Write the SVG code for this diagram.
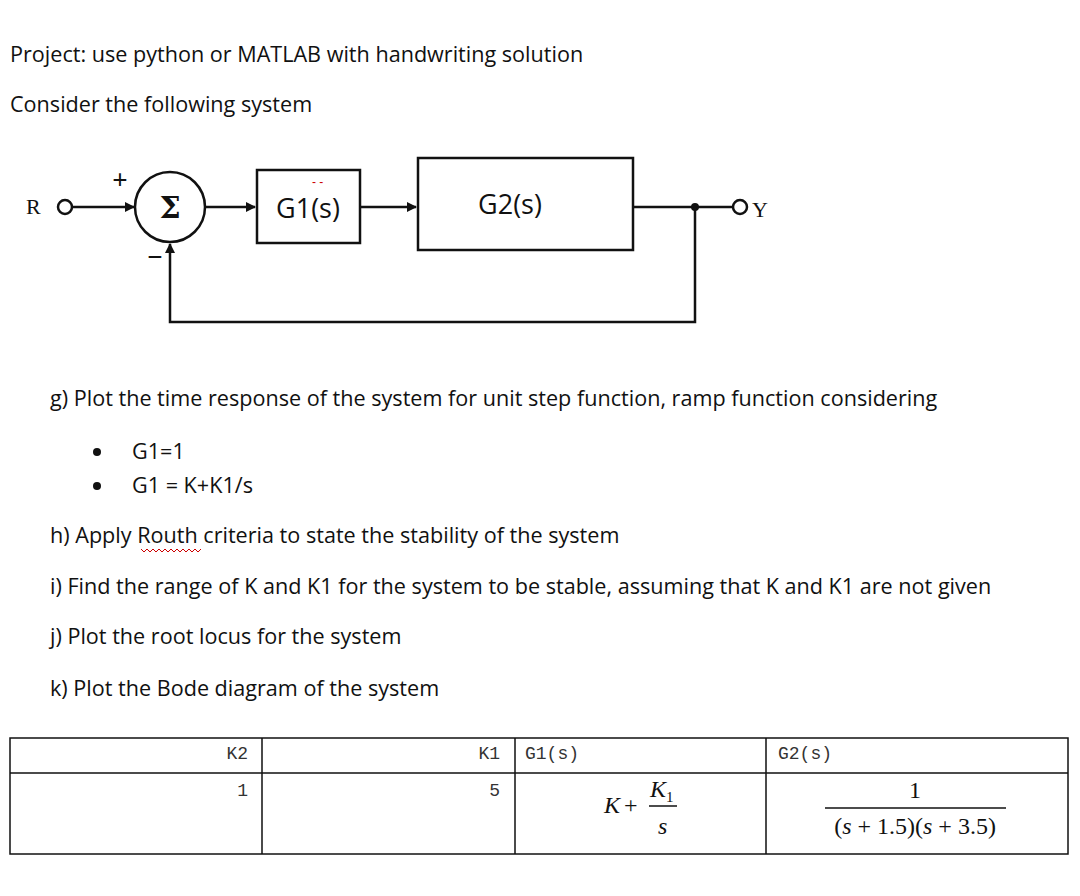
<svg xmlns="http://www.w3.org/2000/svg" width="1080" height="896" viewBox="0 0 1080 896">
<style>
.t{font-family:"Open Sans","Liberation Sans",sans-serif;font-size:21.6px;fill:#111}
.ln{stroke:#111;stroke-width:2.5;fill:none}
.m{font-family:"Liberation Mono",monospace;font-size:18px;fill:#333}
.s{font-family:"Liberation Serif",serif;font-size:22px;fill:#111}
.big{font-size:27px}
.mt{font-family:"Liberation Serif",serif;font-size:24px;fill:#111}
</style>
<defs><marker id="a" markerWidth="10" markerHeight="10" refX="9" refY="5" orient="auto" markerUnits="userSpaceOnUse"><path d="M0,0 L10,5 L0,10z" fill="#111"/></marker></defs>
<rect width="1080" height="896" fill="#fff"/>
<text class="t" x="10" y="62">Project: use python or MATLAB with handwriting solution</text>
<text class="t" x="10" y="112">Consider the following system</text>
<g id="R"><text class="s" x="26" y="214">R</text><circle cx="65" cy="207" r="7" class="ln" stroke-width="2"/></g>
<g id="sum"><circle cx="170" cy="207" r="35" class="ln"/><text x="170" y="218" text-anchor="middle" style="font-family:'DejaVu Serif',serif;font-size:30px;font-weight:bold;fill:#111">Σ</text>
<text class="s big" x="120" y="189" text-anchor="middle" style="font-weight:bold">+</text><text class="s big" x="155" y="266" text-anchor="middle" style="font-weight:bold">−</text></g>
<g id="G1"><rect x="257" y="170" width="103" height="73" class="ln" stroke-width="2"/><text class="t big" x="308" y="218" text-anchor="middle">G1(s)</text><text x="312" y="186" fill="#c00" style="font-size:12px" font-family="Liberation Sans">- -</text></g>
<g id="G2"><rect x="418" y="158" width="215" height="92" class="ln" stroke-width="2"/><text class="t big" x="510" y="214" text-anchor="middle">G2(s)</text></g>
<g id="Y"><circle cx="740" cy="207" r="7" class="ln" stroke-width="2"/><text class="s" x="752" y="217">Y</text></g>
<g id="connectors">
<path class="ln" d="M72,207 H134" marker-end="url(#a)"/>
<path class="ln" d="M205,207 H255" marker-end="url(#a)"/>
<path class="ln" d="M360,207 H416" marker-end="url(#a)"/>
<path class="ln" d="M633,207 H733"/>
<circle cx="695" cy="207" r="4" fill="#111"/>
<path class="ln" d="M695,207 V322 H170 V244" marker-end="url(#a)"/>
</g>
<text class="t" x="50" y="406">g) Plot the time response of the system for unit step function, ramp function considering</text>
<circle cx="97" cy="452" r="4" fill="#111"/><text class="t" x="132" y="459">G1=1</text>
<circle cx="97" cy="486" r="4" fill="#111"/><text class="t" x="132" y="493">G1 = K+K1/s</text>
<text class="t" x="50" y="543">h) Apply Routh criteria to state the stability of the system</text>
<path d="M141,549 l3,3 3,-3 3,3 3,-3 3,3 3,-3 3,3 3,-3 3,3 3,-3 3,3 3,-3 3,3 3,-3 3,3 3,-3 3,3 3,-3 3,3 3,-3" stroke="#c00" fill="none" stroke-width="1"/>
<text class="t" x="50" y="594">i) Find the range of K and K1 for the system to be stable, assuming that K and K1 are not given</text>
<text class="t" x="50" y="644">j) Plot the root locus for the system</text>
<text class="t" x="50" y="696">k) Plot the Bode diagram of the system</text>
<g id="table" stroke="#111" stroke-width="1.5" fill="none">
<rect x="10" y="738" width="1058" height="116"/>
<path d="M10,773 H1068 M262,738 V854 M515,738 V854 M766,738 V854"/>
</g>
<text class="m" x="248" y="759" text-anchor="end">K2</text>
<text class="m" x="500" y="759" text-anchor="end">K1</text>
<text class="m" x="525" y="759">G1(s)</text>
<text class="m" x="778" y="759">G2(s)</text>
<text class="m" x="248" y="796" text-anchor="end">1</text>
<text class="m" x="500" y="796" text-anchor="end">5</text>
<text class="mt" x="604" y="813" font-style="italic">K</text><text class="mt" x="624" y="813">+</text>
<text class="mt" x="650" y="797" font-style="italic">K</text><text class="mt" x="666" y="802" style="font-size:15px">1</text>
<line x1="649" y1="806" x2="677" y2="806" stroke="#111" stroke-width="1.5"/>
<text class="mt" x="658" y="834" font-style="italic">s</text>
<text class="mt" x="915" y="798" text-anchor="middle">1</text>
<line x1="825" y1="808" x2="1006" y2="808" stroke="#111" stroke-width="1.5"/>
<text class="mt" x="915" y="834" text-anchor="middle">(<tspan font-style="italic">s</tspan> + 1.5)(<tspan font-style="italic">s</tspan> + 3.5)</text>
</svg>
